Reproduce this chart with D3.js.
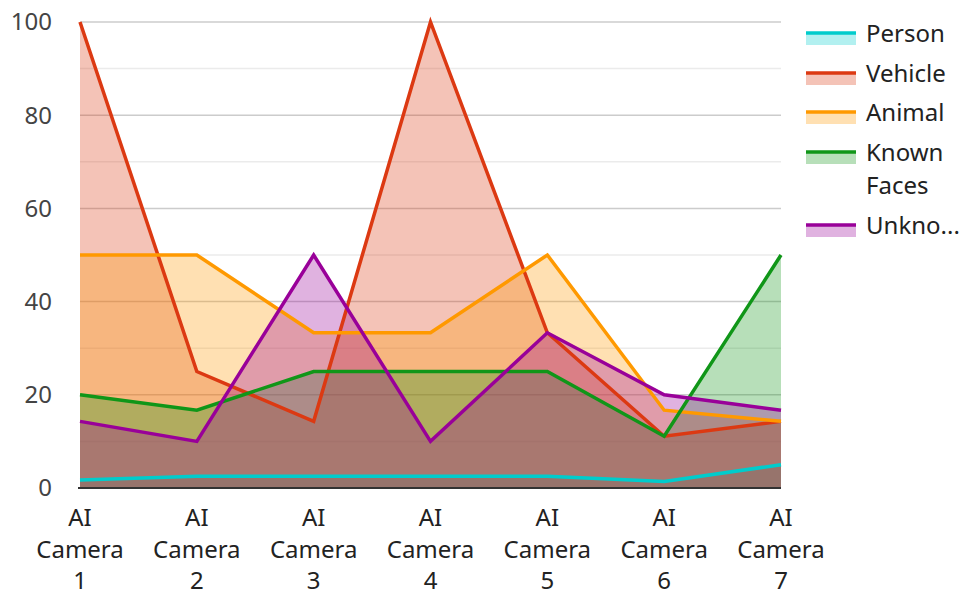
<!DOCTYPE html>
<html>
<head>
<meta charset="utf-8">
<script src="https://cdn.jsdelivr.net/npm/d3@7"></script>
<style>
  body { margin: 0; background: #fff; }
  svg { display: block; font-family: "Noto Sans", sans-serif; }
</style>
</head>
<body>
<div id="chart"></div>
<script>
// chart data
var cameras = ["AI Camera 1", "AI Camera 2", "AI Camera 3", "AI Camera 4", "AI Camera 5", "AI Camera 6", "AI Camera 7"];
var seriesNames = ["Person", "Vehicle", "Animal", "Known Faces", "Unknown"];
var legendLabels = [["Person"], ["Vehicle"], ["Animal"], ["Known", "Faces"], ["Unkno..."]];
var seriesColors = ["#00cccc", "#dc3912", "#ff9900", "#109618", "#990099"];

var person = [1.7, 2.5, 2.5, 2.5, 2.5, 1.4, 5];
var vehicle = [100, 25, 14.3, 100, 33.3, 11.1, 14.3];
var animal = [50, 50, 33.3, 33.3, 50, 16.7, 14.3];
var knownFaces = [20, 16.7, 25, 25, 25, 11.1, 50];
var unknown = [14.3, 10, 50, 10, 33.3, 20, 16.7];

var yTicks = [0, 20, 40, 60, 80, 100];
var yMinor = [10, 30, 50, 70, 90];

var seriesValues = [person, vehicle, animal, knownFaces, unknown];

var width = 963, height = 592;
var margin = { top: 22, right: 182, bottom: 104, left: 80 };
var plotW = width - margin.left - margin.right,
    plotH = height - margin.top - margin.bottom;

var svg = d3.select("#chart")
  .append("svg")
  .attr("width", width)
  .attr("height", height);

var g = svg.append("g")
  .attr("transform", "translate(" + margin.left + "," + margin.top + ")");

var x = d3.scalePoint()
  .domain(cameras)
  .range([0, plotW]);

var y = d3.scaleLinear()
  .domain([0, 100])
  .range([plotH, 0]);

// gridlines
g.selectAll(".minor")
  .data(yMinor)
  .enter()
  .append("line")
  .attr("x1", 0).attr("x2", plotW)
  .attr("y1", function (d) { return y(d); })
  .attr("y2", function (d) { return y(d); })
  .style("stroke", "#ebebeb")
  .style("stroke-width", 1.5);

g.selectAll(".major")
  .data(yTicks.filter(function (d) { return d > 0; }))
  .enter()
  .append("line")
  .attr("x1", 0).attr("x2", plotW)
  .attr("y1", function (d) { return y(d); })
  .attr("y2", function (d) { return y(d); })
  .style("stroke", "#cccccc")
  .style("stroke-width", 1.5);

// y tick labels
g.selectAll(".ylab")
  .data(yTicks)
  .enter()
  .append("text")
  .attr("x", -28)
  .attr("y", function (d) { return y(d); })
  .attr("dy", "0.35em")
  .attr("text-anchor", "end")
  .style("font-size", "24px")
  .style("fill", "#444")
  .text(function (d) { return d; });

var area = d3.area()
  .x(function (d, i) { return x(cameras[i]); })
  .y0(y(0))
  .y1(function (d) { return y(d); });

var line = d3.line()
  .x(function (d, i) { return x(cameras[i]); })
  .y(function (d) { return y(d); });

// areas first, then lines on top
g.selectAll(".area")
  .data(seriesValues)
  .enter()
  .append("path")
  .attr("d", function (d) { return area(d); })
  .style("fill", function (d, i) { return seriesColors[i]; })
  .style("fill-opacity", 0.3);

g.selectAll(".line")
  .data(seriesValues)
  .enter()
  .append("path")
  .attr("d", function (d) { return line(d); })
  .style("fill", "none")
  .style("stroke", function (d, i) { return seriesColors[i]; })
  .style("stroke-width", 3.5)
  .style("stroke-linejoin", "miter");

// baseline
g.append("line")
  .attr("x1", -2).attr("x2", plotW)
  .attr("y1", y(0)).attr("y2", y(0))
  .style("stroke", "#333")
  .style("stroke-width", 2);

// x labels, wrapped in three lines
var xl = g.selectAll(".xlab")
  .data(cameras)
  .enter()
  .append("text")
  .attr("text-anchor", "middle")
  .style("font-size", "24px")
  .style("fill", "#222");

xl.selectAll("tspan")
  .data(function (d) { return ["AI", "Camera", d.split(" ")[2]]; })
  .enter()
  .append("tspan")
  .attr("x", function () { return x(d3.select(this.parentNode).datum()); })
  .attr("y", function (d, i) { return plotH + 38 + i * 31.5; })
  .text(function (d) { return d; });

// legend
var legendY = [33, 73, 112, 152, 225];
var legend = svg.selectAll(".legend")
  .data(seriesNames)
  .enter()
  .append("g")
  .attr("transform", function (d, i) { return "translate(806," + legendY[i] + ")"; });

legend.append("rect")
  .attr("x", 0).attr("y", 1)
  .attr("width", 50).attr("height", 11)
  .style("fill", function (d, i) { return seriesColors[i]; })
  .style("fill-opacity", 0.3);

legend.append("line")
  .attr("x1", 0).attr("x2", 50)
  .attr("y1", 0).attr("y2", 0)
  .style("stroke", function (d, i) { return seriesColors[i]; })
  .style("stroke-width", 3.5);

legend.append("text")
  .style("font-size", "24px")
  .style("fill", "#222")
  .selectAll("tspan")
  .data(function (d, i) { return legendLabels[i]; })
  .enter()
  .append("tspan")
  .attr("x", 60)
  .attr("y", function (d, i) { return 9 + i * 33; })
  .text(function (d) { return d; });
</script>
</body>
</html>
